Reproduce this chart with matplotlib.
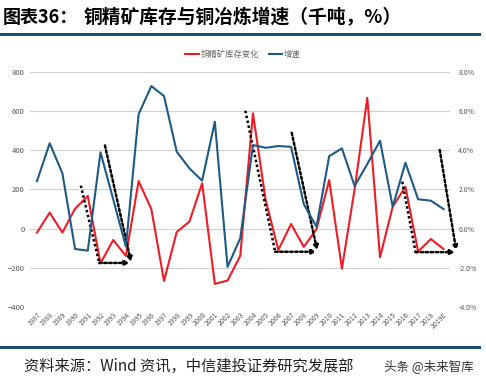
import numpy as np
import matplotlib.pyplot as plt

plt.rcParams['font.family'] = ['Noto Sans CJK SC', 'DejaVu Sans']

years = ['1987', '1988', '1989', '1990', '1991', '1992', '1993', '1994', '1995',
         '1996', '1997', '1998', '1999', '2000', '2001', '2002', '2003', '2004',
         '2005', '2006', '2007', '2008', '2009', '2010', '2011', '2012', '2013',
         '2014', '2015', '2016', '2017', '2018', '2019E']

# 铜精矿库存变化 (千吨)
stock_change = [-20, 82, -20, 102, 167, -177, -58, -139, 243, 100, -267, -17, 36,
                232, -282, -265, -139, 589, 146, -109, 24, -93, -3, 248, -204,
                201, 668, -146, 112, 214, -117, -53, -104]

# 增速 (%)
growth = [2.43, 4.36, 2.83, -1.04, -1.12, 3.90, 1.50, -0.92, 5.84, 7.28, 6.77,
          3.93, 3.08, 2.45, 5.46, -1.95, -0.49, 4.27, 4.13, 4.22, 4.18, 1.25,
          0.10, 3.70, 4.10, 2.18, 3.30, 4.49, 1.12, 3.37, 1.50, 1.43, 1.00]

red = '#ee1c25'
blue = '#1d5a85'
navy = '#1b4a72'
x = np.arange(len(years))

fig = plt.figure(figsize=(4.86, 3.79), dpi=100)
ax = fig.add_axes([0.0617, 0.19, 0.864, 0.62])
ax2 = ax.twinx()

ax.plot(x, stock_change, color=red, lw=1.5, label='铜精矿库存变化', zorder=3)
ax2.plot(x, growth, color=blue, lw=1.5, label='增速', zorder=3)

ax.set_xlim(-0.55, 32.5)
ax.set_ylim(-400, 800)
ax2.set_ylim(-4, 8)
ax.set_yticks(np.arange(-400, 801, 200))
ax2.set_yticks(np.arange(-4, 8.1, 2))
ax2.set_yticklabels(['%.1f%%' % v for v in np.arange(-4, 8.1, 2)])
ax.set_xticks(x)
ax.set_xticklabels(years, rotation=45, ha='right', rotation_mode='anchor')

ax.grid(axis='y', color='#d0d0d0', lw=0.8)
ax.set_axisbelow(True)
for a in (ax, ax2):
    for s in a.spines.values():
        s.set_visible(False)
    a.tick_params(length=0, colors='#555555', labelsize=5)
ax.tick_params(axis='y', labelsize=5.5, pad=4)
ax.tick_params(axis='x', pad=3)
ax2.tick_params(axis='y', pad=6)

# dotted trend arrows (data coords: x index, left-axis value)
dot = dict(color='black', lw=1.8, ls=(0, (1, 1)), clip_on=False, zorder=4)
arrow = dict(arrowstyle='-|>', color='black', lw=1.8, ls=(0, (1, 1)),
             mutation_scale=6, shrinkA=0, shrinkB=0)
segments = [
    ((3.45, 220), (4.9, -175), False),
    ((4.9, -175), (7.3, -175), True),
    ((5.35, 425), (7.4, -170), True),
    ((16.4, 602), (18.75, -118), False),
    ((18.75, -118), (22.0, -118), True),
    ((20.05, 490), (22.05, -110), True),
    ((28.75, 240), (29.8, -120), False),
    ((29.8, -120), (32.9, -120), True),
    ((31.7, 402), (33.0, -112), True),
]
for p0, p1, has_head in segments:
    if has_head:
        ax.annotate('', xy=p1, xytext=p0, arrowprops=arrow,
                    annotation_clip=False, zorder=4)
    else:
        ax.plot([p0[0], p1[0]], [p0[1], p1[1]], **dot)

h1, l1 = ax.get_legend_handles_labels()
h2, l2 = ax2.get_legend_handles_labels()
fig.legend(h1 + h2, l1 + l2, loc='center', bbox_to_anchor=(0.5, 0.857),
           ncol=2, frameon=False, fontsize=6, handlelength=1.6,
           handletextpad=0.2, columnspacing=1.2, labelcolor='#666666')

# header and footer
fig.text(0.006, 0.953, '图表36：', fontsize=13, fontweight='bold',
         va='center', ha='left', color='black')
fig.text(0.171, 0.953, '铜精矿库存与铜冶炼增速（千吨，%）', fontsize=13.5,
         fontweight='bold', va='center', ha='left', color='black')
fig.add_artist(plt.Line2D([0, 0.985], [0.909, 0.909], color=navy, lw=2.2))
fig.add_artist(plt.Line2D([0, 0.985], [0.085, 0.085], color=navy, lw=2.2))
fig.text(0.05, 0.032, '资料来源：Wind 资讯，中信建投证券研究发展部',
         fontsize=11, style='italic', va='center', ha='left', color='#222222')
fig.text(0.79, 0.035, '头条 @未来智库', fontsize=9, va='center', ha='left',
         color='#333333')

fig.savefig('out.png', dpi=100)
